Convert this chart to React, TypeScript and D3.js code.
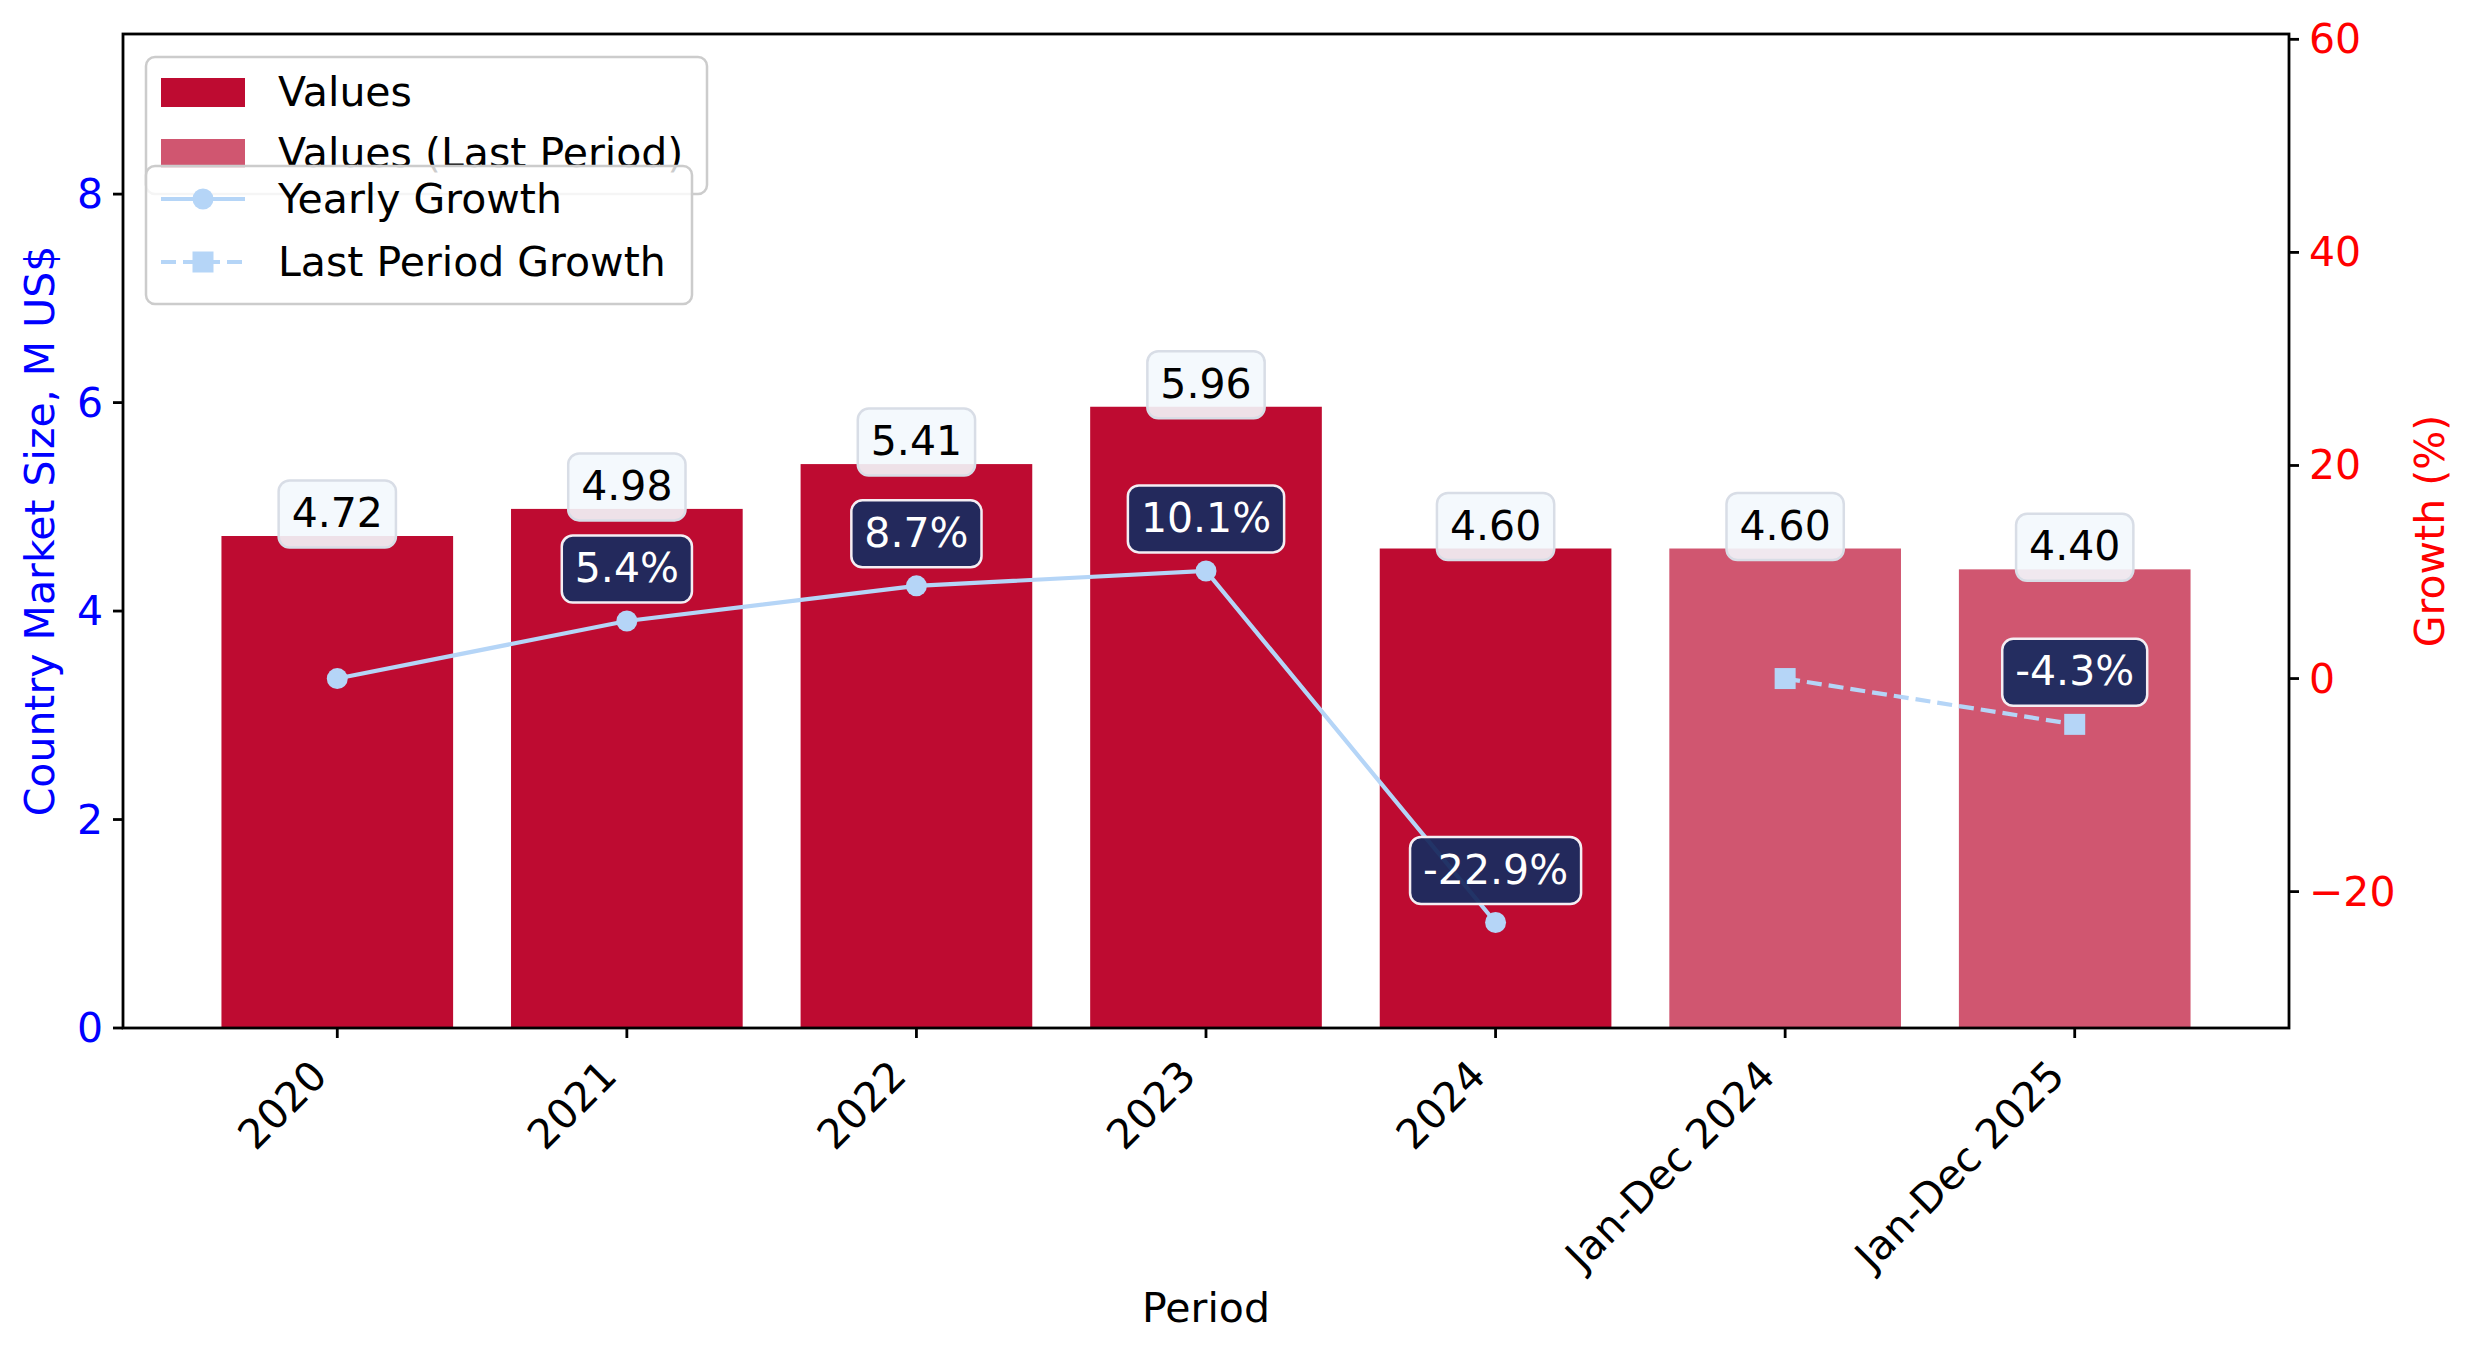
import * as d3 from 'd3'
import { useEffect, useRef } from 'react'

const periods = ['2020', '2021', '2022', '2023', '2024', 'Jan-Dec 2024', 'Jan-Dec 2025']
const values = [4.72, 4.98, 5.41, 5.96, 4.6, 4.6, 4.4]
const isLastPeriod = [false, false, false, false, false, true, true]
const yearlyGrowth = [0, 5.4, 8.7, 10.1, -22.9]
const lastPeriodGrowth = [0, -4.3]
const leftTicks = [0, 2, 4, 6, 8]
const rightTicks = [-20, 0, 20, 40, 60]

const W = 2473
const H = 1352
const M = { left: 123, right: 2289, top: 34, bottom: 1028 }
const FONT = 'DejaVu Sans, sans-serif'
const FS = 41
const BAR = '#be0b31'
const BAR_LAST = '#d05670'
const LINE = '#b5d5f7'
const NAVY = '#1a2b5f'

export default function App() {
  const ref = useRef<SVGSVGElement>(null)

  useEffect(() => {
    if (!ref.current) return
    const svg = d3.select(ref.current)
    svg.selectAll('*').remove()

    const x = d3.scaleLinear().domain([-0.74, 6.74]).range([M.left, M.right])
    const y = d3.scaleLinear().domain([0, 9.536]).range([M.bottom, M.top])
    const yG = d3.scaleLinear().domain([-32.8, 60.5]).range([M.bottom, M.top])
    const bw = x(0.4) - x(0)

    // bars
    svg
      .append('g')
      .selectAll('rect')
      .data(values)
      .join('rect')
      .attr('x', (_, i) => x(i) - bw)
      .attr('width', bw * 2)
      .attr('y', (d) => y(d))
      .attr('height', (d) => M.bottom - y(d))
      .attr('fill', (_, i) => (isLastPeriod[i] ? BAR_LAST : BAR))

    // growth lines
    const line = d3
      .line<[number, number]>()
      .x((d) => x(d[0]))
      .y((d) => yG(d[1]))
    const yearlyPts: [number, number][] = yearlyGrowth.map((g, i) => [i, g])
    const lastPts: [number, number][] = lastPeriodGrowth.map((g, i) => [i + 5, g])
    svg
      .append('path')
      .attr('d', line(yearlyPts))
      .attr('fill', 'none')
      .attr('stroke', LINE)
      .attr('stroke-width', 4.2)
    svg
      .append('g')
      .selectAll('circle')
      .data(yearlyPts)
      .join('circle')
      .attr('cx', (d) => x(d[0]))
      .attr('cy', (d) => yG(d[1]))
      .attr('r', 10.5)
      .attr('fill', LINE)
    svg
      .append('path')
      .attr('d', line(lastPts))
      .attr('fill', 'none')
      .attr('stroke', LINE)
      .attr('stroke-width', 4.2)
      .attr('stroke-dasharray', '15,7')
    svg
      .append('g')
      .selectAll('rect')
      .data(lastPts)
      .join('rect')
      .attr('x', (d) => x(d[0]) - 10.5)
      .attr('y', (d) => yG(d[1]) - 10.5)
      .attr('width', 21)
      .attr('height', 21)
      .attr('fill', LINE)

    // labelled boxes
    const label = (
      cx: number,
      cy: number,
      text: string,
      fill: string,
      fillOpacity: number,
      stroke: string,
      color: string,
    ) => {
      const g = svg.append('g')
      const r = g.append('rect')
      const t = g
        .append('text')
        .attr('x', cx)
        .attr('y', cy)
        .attr('text-anchor', 'middle')
        .attr('dominant-baseline', 'central')
        .attr('font-family', FONT)
        .attr('font-size', FS)
        .attr('fill', color)
        .text(text)
      const tw = (t.node() as SVGTextElement).getComputedTextLength()
      const bwid = tw + 26
      const bh = 67
      r.attr('x', cx - bwid / 2)
        .attr('y', cy - bh / 2 + 1)
        .attr('width', bwid)
        .attr('height', bh)
        .attr('rx', 11)
        .attr('fill', fill)
        .attr('fill-opacity', fillOpacity)
        .attr('stroke', stroke)
        .attr('stroke-width', 2.5)
    }

    values.forEach((v, i) => {
      label(x(i), y(v) - 23, v.toFixed(2), '#f3f8fd', 0.9, '#d8dde6', '#000')
    })
    yearlyPts.concat(lastPts).forEach(([i, g]) => {
      if (g === 0) return
      label(x(i), yG(g) - 53, `${g.toFixed(1)}%`, NAVY, 0.95, '#f4eef3', '#fff')
    })

    // frame
    svg
      .append('rect')
      .attr('x', M.left)
      .attr('y', M.top)
      .attr('width', M.right - M.left)
      .attr('height', M.bottom - M.top)
      .attr('fill', 'none')
      .attr('stroke', '#000')
      .attr('stroke-width', 2.8)

    // left axis
    const la = svg.append('g')
    leftTicks.forEach((t) => {
      la.append('line')
        .attr('x1', M.left - 10)
        .attr('x2', M.left)
        .attr('y1', y(t))
        .attr('y2', y(t))
        .attr('stroke', '#000')
        .attr('stroke-width', 2.8)
      la.append('text')
        .attr('x', M.left - 20)
        .attr('y', y(t))
        .attr('text-anchor', 'end')
        .attr('dominant-baseline', 'central')
        .attr('font-family', FONT)
        .attr('font-size', FS)
        .attr('fill', '#0000ff')
        .text(t)
    })

    // right axis
    const ra = svg.append('g')
    rightTicks.forEach((t) => {
      ra.append('line')
        .attr('x1', M.right)
        .attr('x2', M.right + 10)
        .attr('y1', yG(t))
        .attr('y2', yG(t))
        .attr('stroke', '#000')
        .attr('stroke-width', 2.8)
      ra.append('text')
        .attr('x', M.right + 20)
        .attr('y', yG(t))
        .attr('dominant-baseline', 'central')
        .attr('font-family', FONT)
        .attr('font-size', FS)
        .attr('fill', '#ff0000')
        .text(t < 0 ? `\u2212${Math.abs(t)}` : t)
    })

    // bottom axis
    const ba = svg.append('g')
    periods.forEach((p, i) => {
      ba.append('line')
        .attr('x1', x(i))
        .attr('x2', x(i))
        .attr('y1', M.bottom)
        .attr('y2', M.bottom + 10)
        .attr('stroke', '#000')
        .attr('stroke-width', 2.8)
      ba.append('text')
        .attr('transform', `translate(${x(i) - 8},${M.bottom + 50}) rotate(-45)`)
        .attr('text-anchor', 'end')
        .attr('font-family', FONT)
        .attr('font-size', FS)
        .attr('fill', '#000')
        .text(p)
    })

    // axis titles
    svg
      .append('text')
      .attr('x', (M.left + M.right) / 2)
      .attr('y', 1308)
      .attr('text-anchor', 'middle')
      .attr('dominant-baseline', 'central')
      .attr('font-family', FONT)
      .attr('font-size', FS)
      .text('Period')
    svg
      .append('text')
      .attr('transform', `translate(40,${(M.top + M.bottom) / 2}) rotate(-90)`)
      .attr('text-anchor', 'middle')
      .attr('dominant-baseline', 'central')
      .attr('font-family', FONT)
      .attr('font-size', FS)
      .attr('fill', '#0000ff')
      .text('Country Market Size, M US$')
    svg
      .append('text')
      .attr('transform', `translate(2430,${(M.top + M.bottom) / 2}) rotate(-90)`)
      .attr('text-anchor', 'middle')
      .attr('dominant-baseline', 'central')
      .attr('font-family', FONT)
      .attr('font-size', FS)
      .attr('fill', '#ff0000')
      .text('Growth (%)')

    // legends
    const legendBox = (x0: number, y0: number, w: number, h: number) =>
      svg
        .append('rect')
        .attr('x', x0)
        .attr('y', y0)
        .attr('width', w)
        .attr('height', h)
        .attr('rx', 9)
        .attr('fill', '#fff')
        .attr('fill-opacity', 0.8)
        .attr('stroke', '#cccccc')
        .attr('stroke-width', 2.5)
    const legendText = (ty: number, text: string) =>
      svg
        .append('text')
        .attr('x', 278)
        .attr('y', ty)
        .attr('dominant-baseline', 'central')
        .attr('font-family', FONT)
        .attr('font-size', FS)
        .attr('fill', '#000')
        .text(text)

    legendBox(146, 57, 561, 137)
    svg.append('rect').attr('x', 161).attr('y', 78).attr('width', 84).attr('height', 29).attr('fill', BAR)
    legendText(92, 'Values')
    svg.append('rect').attr('x', 161).attr('y', 139).attr('width', 84).attr('height', 29).attr('fill', BAR_LAST)
    legendText(153, 'Values (Last Period)')

    legendBox(146, 166, 546, 138)
    svg
      .append('line')
      .attr('x1', 161)
      .attr('x2', 245)
      .attr('y1', 199)
      .attr('y2', 199)
      .attr('stroke', LINE)
      .attr('stroke-width', 4.2)
    svg.append('circle').attr('cx', 203).attr('cy', 199).attr('r', 10.5).attr('fill', LINE)
    legendText(199, 'Yearly Growth')
    svg
      .append('line')
      .attr('x1', 161)
      .attr('x2', 245)
      .attr('y1', 262)
      .attr('y2', 262)
      .attr('stroke', LINE)
      .attr('stroke-width', 4.2)
      .attr('stroke-dasharray', '15,7')
    svg.append('rect').attr('x', 192.5).attr('y', 251.5).attr('width', 21).attr('height', 21).attr('fill', LINE)
    legendText(262, 'Last Period Growth')
  }, [])

  return (
    <svg
      ref={ref}
      width={W}
      height={H}
      viewBox={`0 0 ${W} ${H}`}
      style={{ display: 'block', position: 'absolute', left: 0, top: 0, background: '#fff' }}
    />
  )
}
